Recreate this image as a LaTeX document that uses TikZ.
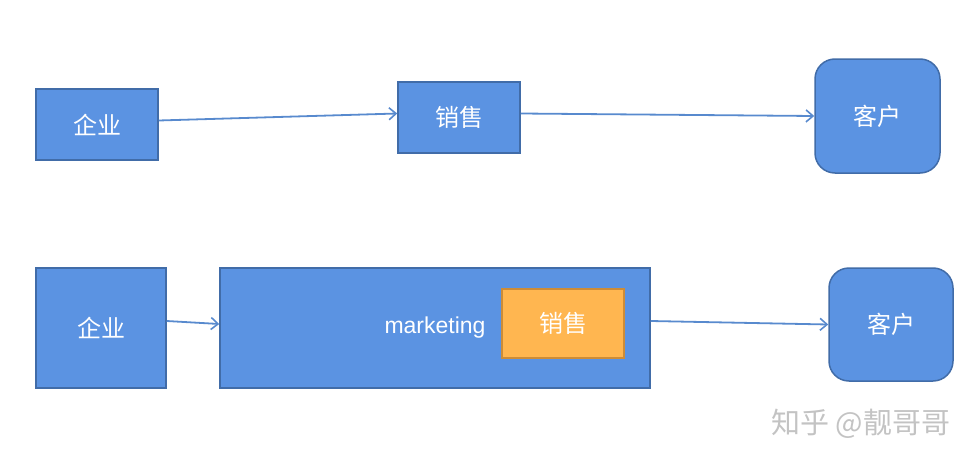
\documentclass[tikz,border=0pt]{standalone}
\usepackage{fontspec}
\setmainfont{Liberation Sans}
\newfontfamily\cjk{Noto Sans CJK SC}
\usetikzlibrary{arrows.meta,calc}
\definecolor{boxblue}{RGB}{91,147,226}
\definecolor{boxedge}{RGB}{65,108,168}
\definecolor{arrowblue}{RGB}{88,138,206}
\definecolor{boxorange}{RGB}{255,182,80}
\definecolor{orangeedge}{RGB}{205,140,55}
\definecolor{wmgray}{RGB}{195,195,195}
\tikzset{
  bluebox/.style={draw=boxedge, fill=boxblue, line width=1.5pt, inner sep=0pt,
    text=white, font=\cjk\fontsize{24}{28}\selectfont},
  roundbox/.style={bluebox, rounded corners=20pt},
  orangebox/.style={draw=orangeedge, fill=boxorange, line width=1.5pt, inner sep=0pt,
    text=white, font=\cjk\fontsize{24}{28}\selectfont},
  conn/.style={draw=arrowblue, line width=1.8pt, -{Straight Barb[length=7pt,width=12pt,line width=1.6pt]}}
}
\begin{document}
\begin{tikzpicture}[x=1pt,y=-1pt]
\useasboundingbox (0,0) rectangle (978,463);
% top row
\node[bluebox, minimum width=122pt, minimum height=71pt] (e1) at (97,124.5) {企业};
\node[bluebox, minimum width=122pt, minimum height=71pt] (s1) at (459,117.5) {销售};
\node[roundbox, minimum width=125pt, minimum height=114pt] (c1) at (877.5,116) {客户};
\draw[conn] ($(e1.east)+(0,-4)$) -- ($(s1.west)+(0,-4)$);
\draw[conn] ($(s1.east)+(0,-4)$) -- (c1.west);
% bottom row
\node[bluebox, minimum width=130pt, minimum height=120pt] (e2) at (101,328) {企业};
\node[bluebox, minimum width=430pt, minimum height=120pt] (m) at (435,328) {};
\node[font=\fontsize{23}{27}\selectfont, text=white, inner sep=0pt] (mt) at (435,328) {marketing};
\node[orangebox, minimum width=122pt, minimum height=69pt] (s2) at (563,323.5) {销售};
\node[roundbox, minimum width=124pt, minimum height=113pt] (c2) at (891,324.5) {客户};
\draw[conn] ($(e2.east)+(0,-7)$) -- ($(m.west)+(0,-4)$);
\draw[conn] ($(m.east)+(0,-7)$) -- (c2.west);
% watermark
\node[font=\cjk\fontsize{29}{32}\selectfont, text=wmgray, anchor=west, inner sep=0pt] (wm) at (771,424) {知乎 @靓哥哥};
\end{tikzpicture}
\end{document}
